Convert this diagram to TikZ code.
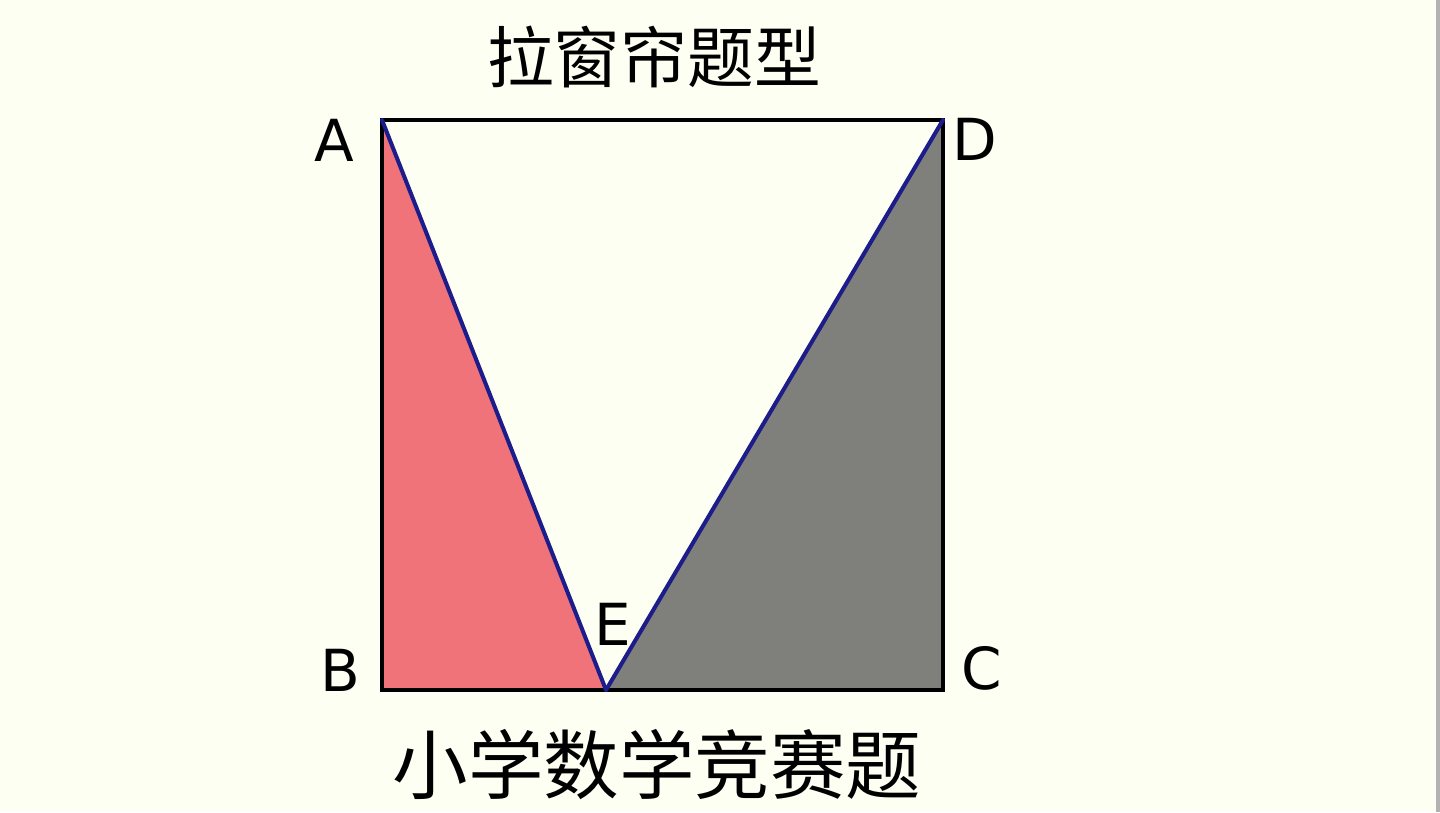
\documentclass[tikz,border=0pt]{standalone}
\usepackage{fontspec}
\setmainfont{DejaVu Sans}
\newfontfamily\cjk{Noto Sans CJK SC}
\usepackage{tikz}
\usetikzlibrary{positioning}
\definecolor{paper}{HTML}{FDFFF2}
\definecolor{curtainred}{HTML}{F07379}
\definecolor{curtaingray}{HTML}{7F7F7B}
\definecolor{edgeblue}{HTML}{1C1C8A}

\begin{document}
\begin{tikzpicture}[
        x=0.02cm, y=-0.02cm,
        side/.style={draw=black, line width=2.6pt, line cap=round},
        cut/.style={draw=edgeblue, line width=2.3pt, line cap=round},
        vertex/.style={font=\fontsize{33}{36}\selectfont, inner sep=0pt},
        caption/.style={font=\cjk, inner sep=0pt}
    ]

    % Background
    \fill[paper] (0,0) rectangle (1440,812);
    \fill[black!30] (1436,0) rectangle (1440,812);
    \useasboundingbox (0,0) rectangle (1440,812);

    % Corners
    \coordinate (A) at (382,120);
    \coordinate (D) at (943,120);
    \coordinate (B) at (382,690);
    \coordinate (C) at (943,690);
    \coordinate (E) at (606,690);

    % Shaded triangles
    \fill[curtainred] (A) -- (B) -- (E) -- cycle;
    \fill[curtaingray] (D) -- (E) -- (C) -- cycle;

    % Square
    \draw[side] (A) -- (D) -- (C) -- (B) -- cycle;

    % Lines to E
    \draw[cut] (A) -- (E);
    \draw[cut] (D) -- (E);

    % Labels
    \node[vertex] at (334,140) (labelA) {A};
    \node[vertex] at (975,139) (labelD) {D};
    \node[vertex] at (340,670) (labelB) {B};
    \node[vertex] at (982,668) (labelC) {C};
    \node[vertex] at (613,624) (labelE) {E};

    % Titles
    \node[caption, font=\cjk\fontsize{38}{40}\selectfont] at (654,57) (title) {拉窗帘题型};
    \node[caption, font=\cjk\fontsize{43}{46}\selectfont] at (657,765) (subtitle) {小学数学竞赛题};

    \end{tikzpicture}
\end{document}
